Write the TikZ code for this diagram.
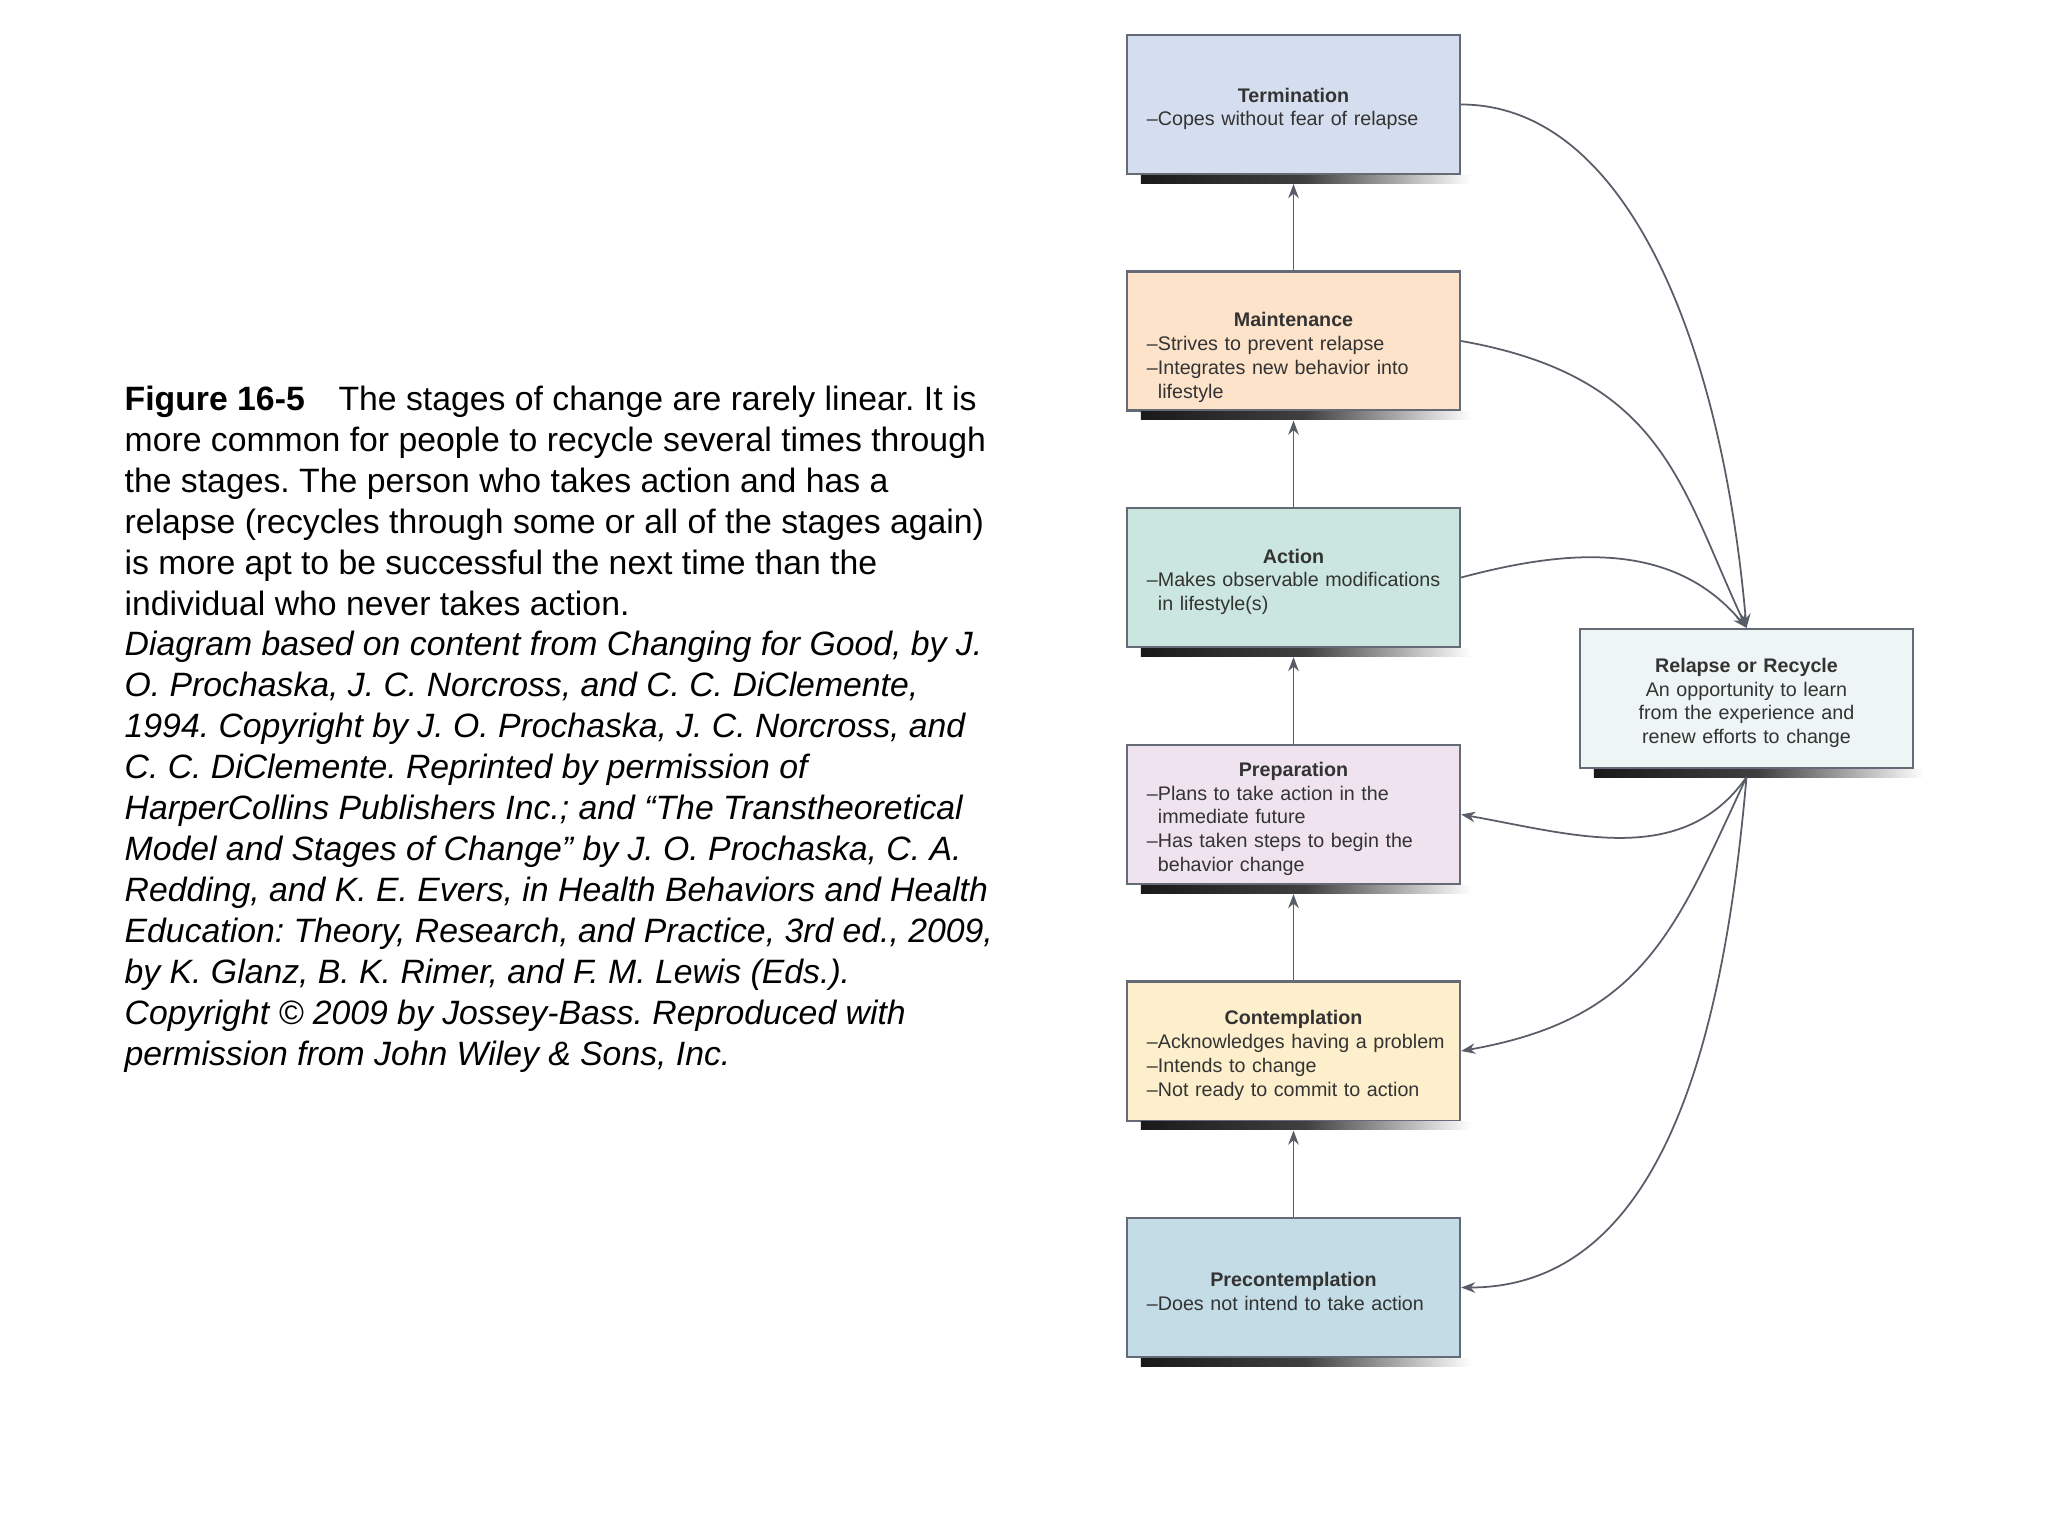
\documentclass[tikz,border=0pt]{standalone}
\usepackage{fontspec}
\setmainfont{Liberation Sans}
\usetikzlibrary{arrows.meta,positioning}
\frenchspacing

\definecolor{boxline}{HTML}{646B76}
\definecolor{linkgray}{HTML}{585D68}
\definecolor{termfill}{HTML}{D5DEEE}
\definecolor{maintfill}{HTML}{FCE3CA}
\definecolor{actfill}{HTML}{CBE6DF}
\definecolor{prepfill}{HTML}{EFE3F0}
\definecolor{contfill}{HTML}{FDEFCB}
\definecolor{precfill}{HTML}{C4DCE5}
\definecolor{relfill}{HTML}{EEF5F5}

% optional argument: strut that pushes the text block down
\newcommand{\stagetitle}[2][0.23cm]{\rule{0pt}{#1}\makebox[2.93cm]{\bfseries #2}}
\newcommand{\stepline}[1]{\mbox{\textendash#1}}
\newcommand{\moreline}[1]{\mbox{\phantom{\textendash}#1}}

\tikzset{
  stage/.style={draw=boxline, line width=0.6pt, minimum width=3.33cm, minimum height=1.39cm,
    text width=2.93cm, inner xsep=0.2cm, inner ysep=0pt, align=left,
    font=\fontsize{5.6}{6.8}\selectfont, text=black!80},
  link/.style={draw=linkgray, line width=0.5pt, -{Stealth[length=4pt,width=3pt]}},
}

\begin{document}
\begin{tikzpicture}[x=0.01cm, y=0.01cm]
    \fill[white] (0,0) rectangle (2048,-1536);
    \useasboundingbox (0,0) rectangle (2048,-1536);

    % Define coordinates for the box centres
    \coordinate (termination centre) at (1293.5,-104.5);
    \coordinate (maintenance centre) at (1293.5,-341);
    \coordinate (action centre) at (1293.5,-577.5);
    \coordinate (preparation centre) at (1293.5,-814.5);
    \coordinate (contemplation centre) at (1293.5,-1051);
    \coordinate (precontemplation centre) at (1293.5,-1287.5);
    \coordinate (relapse centre) at (1746.5,-698.5);

    % Caption
    \node[anchor=north west, inner sep=0pt, align=left, font=\fontsize{9.6}{11.65}\selectfont] (caption) at (124,-385)
      {\textbf{Figure 16-5}\quad The stages of change are rarely linear. It is\\
       more common for people to recycle several times through\\
       the stages. The person who takes action and has a\\
       relapse (recycles through some or all of the stages again)\\
       is more apt to be successful the next time than the\\
       individual who never takes action.\\
       \textit{Diagram based on content from Changing for Good, by J.}\\
       \textit{O. Prochaska, J. C. Norcross, and C. C. DiClemente,}\\
       \textit{1994. Copyright by J. O. Prochaska, J. C. Norcross, and}\\
       \textit{C. C. DiClemente. Reprinted by permission of}\\
       \textit{HarperCollins Publishers Inc.; and “The Transtheoretical}\\
       \textit{Model and Stages of Change” by J. O. Prochaska, C. A.}\\
       \textit{Redding, and K. E. Evers, in Health Behaviors and Health}\\
       \textit{Education: Theory, Research, and Practice, 3rd ed., 2009,}\\
       \textit{by K. Glanz, B. K. Rimer, and F. M. Lewis (Eds.).}\\
       \textit{Copyright © 2009 by Jossey-Bass. Reproduced with}\\
       \textit{permission from John Wiley \& Sons, Inc.}};

    % Stage boxes
    \node[stage, fill=termfill] (termination) at (termination centre)
      {\stagetitle{Termination}\\ \stepline{Copes without fear of relapse}};
    \node[stage, fill=maintfill] (maintenance) at (maintenance centre)
      {\stagetitle[0.47cm]{Maintenance}\\ \stepline{Strives to prevent relapse}\\
       \stepline{Integrates new behavior into}\\ \moreline{lifestyle}};
    \node[stage, fill=actfill] (action) at (action centre)
      {\stagetitle{Action}\\ \stepline{Makes observable modifications}\\ \moreline{in lifestyle(s)}};
    \node[stage, fill=prepfill] (preparation) at (preparation centre)
      {\stagetitle{Preparation}\\ \stepline{Plans to take action in the}\\ \moreline{immediate future}\\
       \stepline{Has taken steps to begin the}\\ \moreline{behavior change}};
    \node[stage, fill=contfill] (contemplation) at (contemplation centre)
      {\stagetitle{Contemplation}\\ \stepline{Acknowledges having a problem}\\
       \stepline{Intends to change}\\ \stepline{Not ready to commit to action}};
    \node[stage, fill=precfill] (precontemplation) at (precontemplation centre)
      {\stagetitle{Precontemplation}\\ \stepline{Does not intend to take action}};
    \node[stage, fill=relfill, align=center] (relapse) at (relapse centre)
      {\rule{0pt}{0.23cm}\textbf{Relapse or Recycle}\\ An opportunity to learn\\ from the experience and\\ renew efforts to change};

    % Shadows under the boxes
    \foreach \s in {termination,maintenance,action,preparation,contemplation,precontemplation,relapse}
      \shade[left color=black!90, right color=white, middle color=black!75]
        ([xshift=0.15cm]\s.south west) rectangle ([xshift=0.1cm,yshift=-0.08cm]\s.south east);

    \coordinate (relapse foot) at ([yshift=-0.08cm]relapse.south);

    % Upward steps
    \foreach \a/\b in {maintenance/termination, action/maintenance, preparation/action,
                      contemplation/preparation, precontemplation/contemplation}
      \draw[link, shorten >=0.09cm] (\a.north) -- (\b.south);

    % Into relapse
    \draw[link] (termination.east) to[out=0, in=95, out looseness=0.7, in looseness=1.25] (relapse.north);
    \draw[link] (maintenance.east) to[out=-10, in=115, out looseness=1.3] (relapse.north);
    \draw[link] (action.east) to[out=15, in=130] (relapse.north);

    % Back out of relapse
    \draw[link] (relapse foot) to[out=-125, in=-10] (preparation.east);
    \draw[link] (relapse foot) to[out=-115, in=10, out looseness=1.1, in looseness=1.2] (contemplation.east);
    \draw[link] (relapse foot) to[out=-95, in=0, out looseness=1.1, in looseness=0.9] (precontemplation.east);
\end{tikzpicture}
\end{document}
